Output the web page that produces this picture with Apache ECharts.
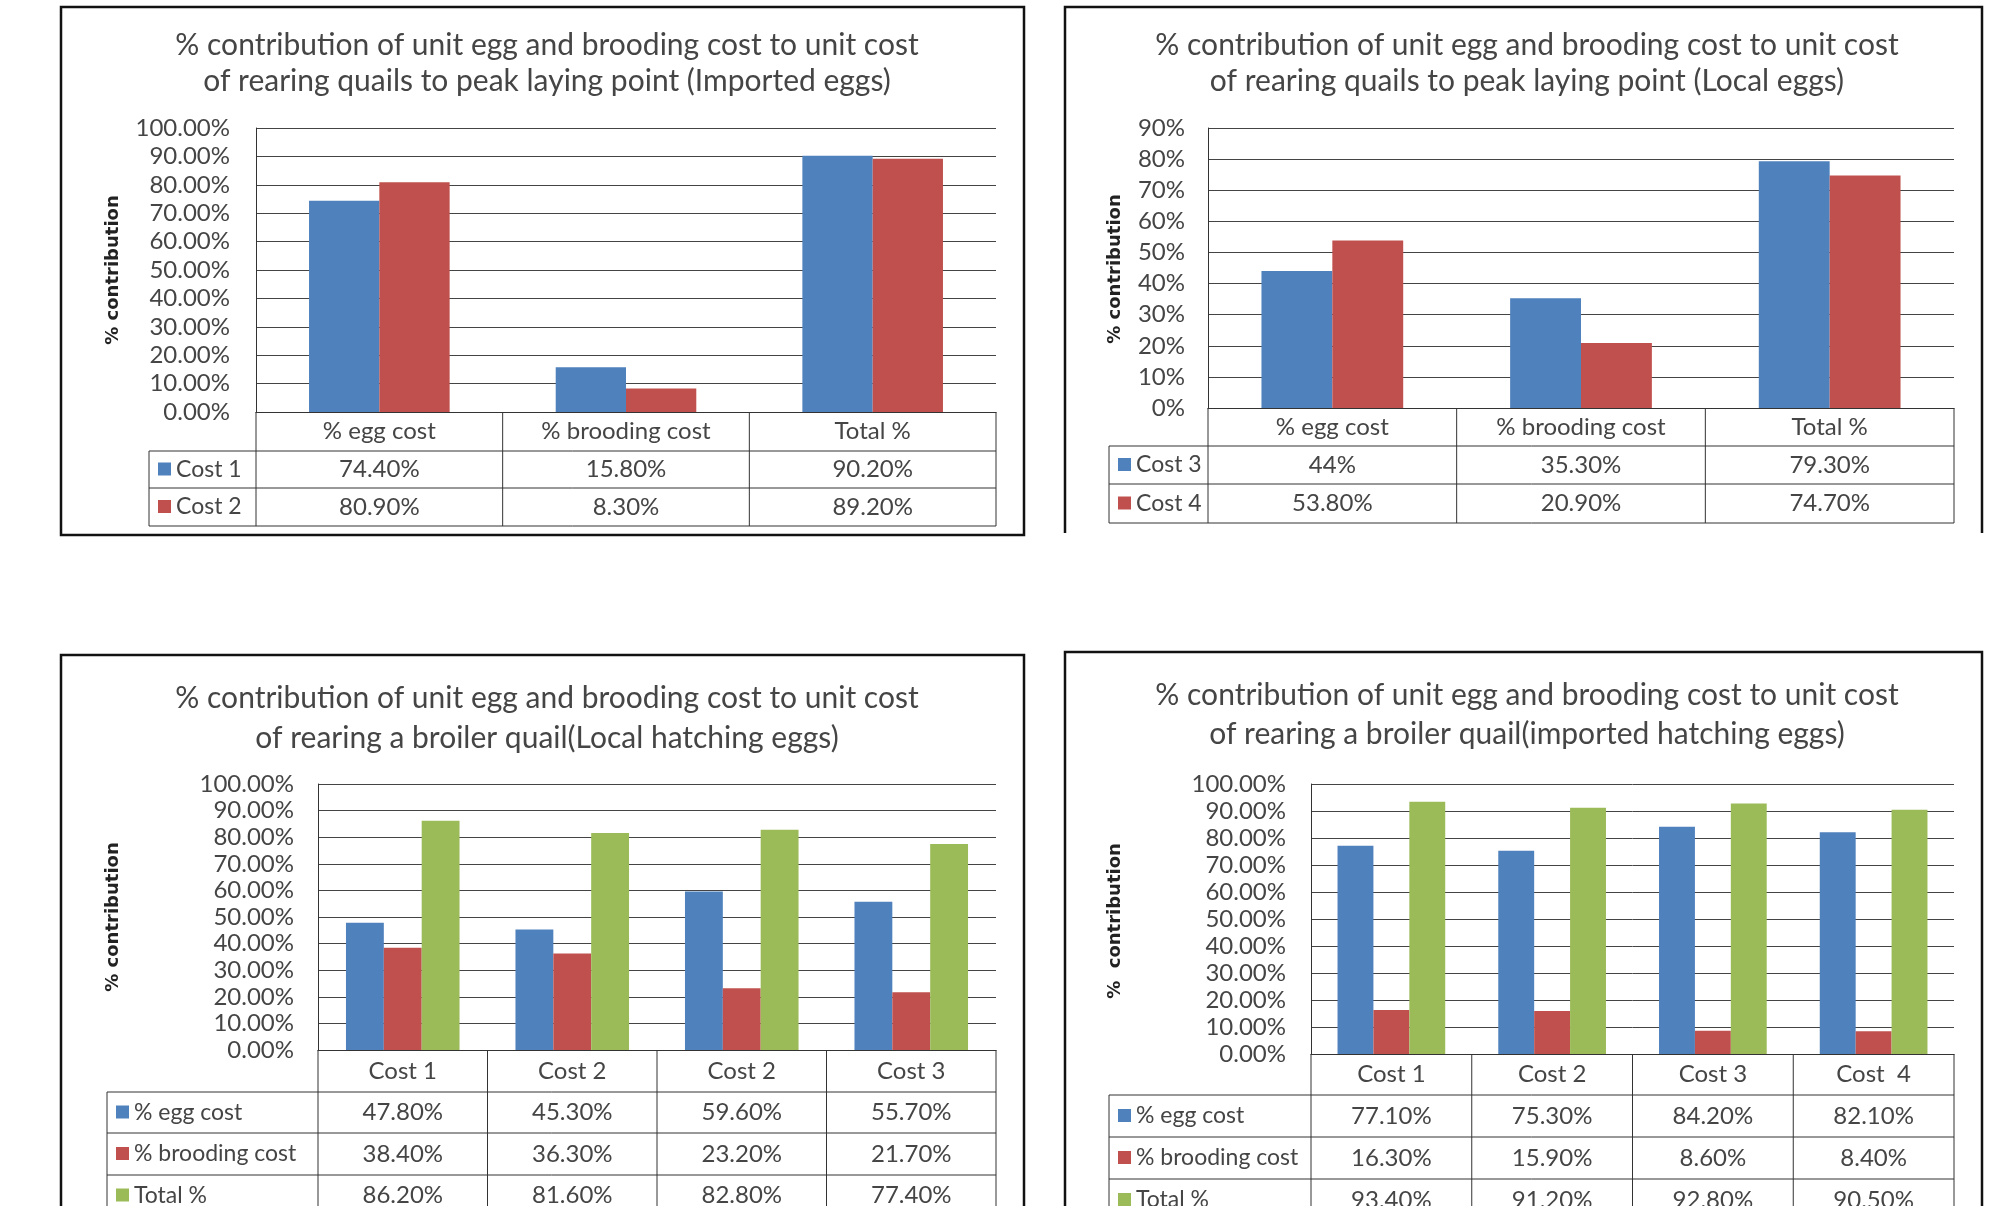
<!DOCTYPE html>
<html>
<head>
<meta charset="utf-8">
<script src="https://cdn.jsdelivr.net/npm/echarts@6/dist/echarts.min.js"></script>
<style>
  html, body { margin: 0; background: #fff; }
  #main { width: 2005px; height: 1206px; }
</style>
</head>
<body>
<div id="main"></div>
<script>
// data
const costCats = ['% egg cost', '% brooding cost', 'Total %'];
const cost1 = [74.4, 15.8, 90.2];
const cost2 = [80.9, 8.3, 89.2];
const cost3 = [44, 35.3, 79.3];
const cost4 = [53.8, 20.9, 74.7];

const localCats = ['Cost 1', 'Cost 2', 'Cost 2', 'Cost 3'];
const localEgg = [47.8, 45.3, 59.6, 55.7];
const localBrood = [38.4, 36.3, 23.2, 21.7];
const localTotal = [86.2, 81.6, 82.8, 77.4];

const importCats = ['Cost 1', 'Cost 2', 'Cost 3', 'Cost  4'];
const importEgg = [77.1, 75.3, 84.2, 82.1];
const importBrood = [16.3, 15.9, 8.6, 8.4];
const importTotal = [93.4, 91.2, 92.8, 90.5];

const titles = [
  '% contribution of unit egg and brooding cost to unit cost\nof rearing quails to peak laying point (Imported eggs)',
  '% contribution of unit egg and brooding cost to unit cost\nof rearing quails to peak laying point (Local eggs)',
  '% contribution of unit egg and brooding cost to unit cost\nof rearing a broiler quail(Local hatching eggs)',
  '% contribution of unit egg and brooding cost to unit cost\nof rearing a broiler quail(imported hatching eggs)'
];

const BLUE = '#4F81BD';
const RED = '#C0504D';
const GREEN = '#9BBB59';
const TXT = '#454545';
const FONT = 'Lato, "Open Sans", sans-serif';
const FS = 24;

const panels = [
  {
    title: titles[0], cats: costCats, yMax: 100, dec: 2, gap: '43%', yName: '% contribution',
    rows: [{ name: 'Cost 1', data: cost1, color: BLUE }, { name: 'Cost 2', data: cost2, color: RED }],
    box: { l: 61, t: 7, r: 1024, b: 535, closed: true }, titleX: 542, titleTop: 22, lh: 36,
    grid: { l: 256, r: 996, t: 128, b: 412 }, lm: 26, tl: 149, lines: [451, 488, 526], yt: [113, 270]
  },
  {
    title: titles[1], cats: costCats, yMax: 90, dec: 0, gap: '43%', yName: '% contribution',
    rows: [{ name: 'Cost 3', data: cost3, color: BLUE }, { name: 'Cost 4', data: cost4, color: RED }],
    box: { l: 1065, t: 7, r: 1982, b: 533, closed: false }, titleX: 1522, titleTop: 22, lh: 36,
    grid: { l: 1208, r: 1954, t: 128, b: 408 }, lm: 23, tl: 1109, lines: [446, 484, 523], yt: [1115, 269]
  },
  {
    title: titles[2], cats: localCats, yMax: 100, dec: 2, gap: '33%', yName: '% contribution',
    rows: [
      { name: '% egg cost', data: localEgg, color: BLUE },
      { name: '% brooding cost', data: localBrood, color: RED },
      { name: 'Total %', data: localTotal, color: GREEN }
    ],
    box: { l: 61, t: 655, r: 1024, b: 1240, closed: false }, titleX: 542, titleTop: 673, lh: 40,
    grid: { l: 318, r: 996, t: 784, b: 1050 }, lm: 24, tl: 107, lines: [1092, 1133, 1175, 1216], yt: [113, 917]
  },
  {
    title: titles[3], cats: importCats, yMax: 100, dec: 2, gap: '33%', yName: '%  contribution',
    rows: [
      { name: '% egg cost', data: importEgg, color: BLUE },
      { name: '% brooding cost', data: importBrood, color: RED },
      { name: 'Total %', data: importTotal, color: GREEN }
    ],
    box: { l: 1065, t: 652, r: 1982, b: 1240, closed: false }, titleX: 1522, titleTop: 671, lh: 39,
    grid: { l: 1311, r: 1954, t: 784, b: 1054 }, lm: 25, tl: 1109, lines: [1095, 1137, 1179, 1221], yt: [1115, 921]
  }
];

const fmtCell = v => (Number.isInteger(v) ? v + '%' : v.toFixed(2) + '%');

const option = { animation: false, backgroundColor: '#fff', title: [], grid: [], xAxis: [], yAxis: [], series: [], graphic: [] };
const g = option.graphic;

const line = (x1, y1, x2, y2, w, c) => ({
  type: 'line', silent: true,
  shape: { x1, y1, x2, y2 },
  style: { stroke: c || '#333', lineWidth: w || 1 }
});
const text = (str, x, y, align, size) => ({
  type: 'text', silent: true, x, y,
  style: {
    text: str, fill: TXT, fontSize: size || FS, fontFamily: FONT,
    align: align, verticalAlign: 'middle', textAlign: align, textVerticalAlign: 'middle'
  }
});

panels.forEach((p, i) => {
  const gr = p.grid;
  const headH = p.lines[0] - gr.b;

  option.title.push({
    text: p.title, left: p.titleX, top: p.titleTop, textAlign: 'center',
    textStyle: { fontSize: 30, fontWeight: 'normal', color: TXT, fontFamily: FONT, lineHeight: p.lh }
  });
  option.grid.push({ left: gr.l, top: gr.t, width: gr.r - gr.l, height: gr.b - gr.t });
  option.xAxis.push({
    gridIndex: i, type: 'category', data: p.cats,
    axisLine: { lineStyle: { color: '#333', width: 1 } },
    axisTick: { show: false },
    axisLabel: {
      interval: 0, margin: headH / 2, verticalAlign: 'middle',
      fontSize: FS, color: TXT, fontFamily: FONT
    }
  });
  option.yAxis.push({
    gridIndex: i, type: 'value', min: 0, max: p.yMax, interval: 10,
    axisLine: { show: true, lineStyle: { color: '#333', width: 1 } },
    axisTick: { show: false },
    splitLine: { lineStyle: { color: '#444', width: 1 } },
    axisLabel: {
      margin: p.lm, fontSize: FS, color: TXT, fontFamily: FONT,
      formatter: v => v.toFixed(p.dec) + '%'
    }
  });
  p.rows.forEach(r => {
    option.series.push({
      type: 'bar', name: r.name, xAxisIndex: i, yAxisIndex: i, data: r.data,
      barGap: '0%', barCategoryGap: p.gap,
      itemStyle: { color: r.color }
    });
  });

  // panel frame
  const b = p.box;
  if (b.closed) {
    g.push({ type: 'rect', silent: true, shape: { x: b.l, y: b.t, width: b.r - b.l, height: b.b - b.t },
      style: { fill: 'none', stroke: '#111', lineWidth: 2.5 } });
  } else {
    g.push({ type: 'polyline', silent: true, shape: { points: [[b.l, b.b], [b.l, b.t], [b.r, b.t], [b.r, b.b]] },
      style: { fill: 'none', stroke: '#111', lineWidth: 2.5 } });
  }

  // y axis title
  g.push({
    type: 'text', silent: true, x: p.yt[0], y: p.yt[1], rotation: Math.PI / 2,
    style: {
      text: p.yName, fill: '#222', fontSize: 18, fontWeight: 'bold', fontFamily: '"DejaVu Sans", Verdana, sans-serif',
      align: 'center', verticalAlign: 'middle', textAlign: 'center', textVerticalAlign: 'middle'
    }
  });

  // data table under the axis
  const n = p.cats.length;
  const cw = (gr.r - gr.l) / n;
  const last = p.lines[p.lines.length - 1];
  for (let j = 0; j <= n; j++) {
    const x = gr.l + j * cw;
    g.push(line(x, gr.b, x, last));
  }
  g.push(line(p.tl, p.lines[0], p.tl, last));
  p.lines.forEach(y => g.push(line(p.tl, y, gr.r, y)));

  p.rows.forEach((r, k) => {
    const top = p.lines[k];
    const bot = p.lines[k + 1];
    const cy = (top + bot) / 2;
    g.push({ type: 'rect', silent: true, shape: { x: p.tl + 9, y: cy - 7, width: 13, height: 13 }, style: { fill: r.color } });
    g.push(text(r.name, p.tl + 27, cy, 'left', 23));
    r.data.forEach((v, j) => {
      g.push(text(fmtCell(v), gr.l + (j + 0.5) * cw, cy, 'center'));
    });
  });
});

const chart = echarts.init(document.getElementById('main'));
chart.setOption(option);
window.onresize = () => chart.resize();
</script>
</body>
</html>
